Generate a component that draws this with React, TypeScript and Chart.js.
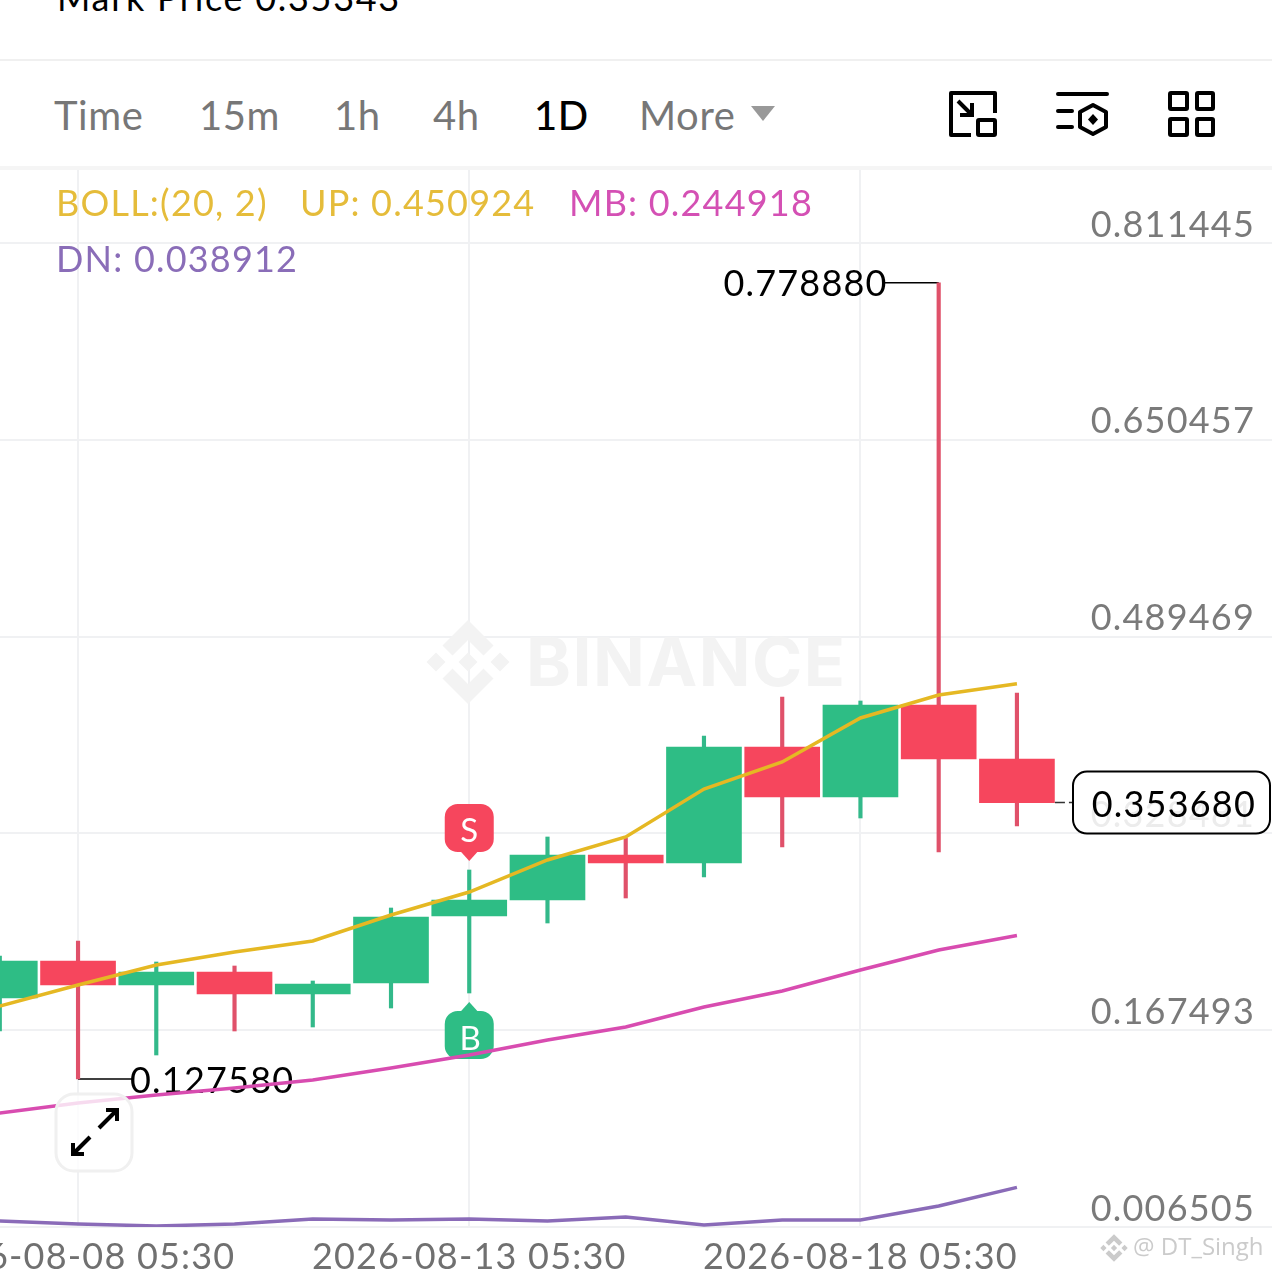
import React, { useEffect, useRef } from "react";
import { Chart, registerables } from "chart.js";

Chart.register(...registerables);

const dayLabels = [
  "2026-08-07", "2026-08-08", "2026-08-09", "2026-08-10", "2026-08-11", "2026-08-12", "2026-08-13",
  "2026-08-14", "2026-08-15", "2026-08-16", "2026-08-17", "2026-08-18", "2026-08-19", "2026-08-20",
];
const open = [0.19384, 0.2241, 0.20447, 0.2151, 0.19711, 0.2061, 0.26091, 0.274, 0.31081, 0.30426, 0.39915, 0.35825, 0.43351, 0.38934];
const close = [0.2241, 0.20447, 0.2151, 0.19711, 0.20529, 0.26009, 0.274, 0.31081, 0.30426, 0.39915, 0.35825, 0.43351, 0.38934, 0.35368];
const high = [0.22819, 0.24046, 0.22328, 0.22001, 0.20774, 0.26745, 0.29854, 0.32554, 0.32472, 0.40815, 0.44006, 0.43678, 0.77888, 0.44333];
const low = [0.16684, 0.12758, 0.14721, 0.16684, 0.17011, 0.18565, 0.19792, 0.25518, 0.27564, 0.29281, 0.31735, 0.34108, 0.31327, 0.33453];
const bollUp = [0.18729, 0.20447, 0.22083, 0.23146, 0.24046, 0.26173, 0.28054, 0.30672, 0.32554, 0.3648, 0.38688, 0.42288, 0.44169, 0.450924];
const bollMid = [0.09976, 0.10794, 0.11448, 0.12021, 0.12675, 0.13657, 0.14721, 0.15948, 0.17011, 0.18647, 0.19956, 0.21674, 0.2331, 0.244918];
const bollDn = [0.01141, 0.00896, 0.00732, 0.00896, 0.01305, 0.01223, 0.01305, 0.01141, 0.01468, 0.00814, 0.01223, 0.01223, 0.02368, 0.038912];
const priceTicks = [0.811445, 0.650457, 0.489469, 0.328481, 0.167493, 0.006505];
const timeTickIndexes = [1, 6, 11];
const timeTickSuffix = " 05:30";
const periods = ["Time", "15m", "1h", "4h", "1D", "More"];
const lastPrice = 0.35368;
const maxPrice = 0.77888;
const minPrice = 0.12758;
const markerIndex = 6;

const GREEN = "#2EBD85";
const RED = "#F6465D";
const FONT = "Lato, 'Noto Sans', sans-serif";
const TRACK = "1.2px";

const rr = (ctx: CanvasRenderingContext2D, x: number, y: number, w: number, h: number, r: number) => {
  ctx.beginPath();
  ctx.roundRect(x, y, w, h, r);
};

const poly = (ctx: CanvasRenderingContext2D, pts: number[][]) => {
  ctx.beginPath();
  pts.forEach(([x, y], i) => (i ? ctx.lineTo(x, y) : ctx.moveTo(x, y)));
  ctx.closePath();
  ctx.fill();
};

const logo = (ctx: CanvasRenderingContext2D, cx: number, cy: number, s: number) => {
  const p = (pts: number[][]) => poly(ctx, pts.map(([x, y]) => [cx + x * s, cy + y * s]));
  p([[-25.5, -16.5], [0, -42], [25.5, -16.5], [15.5, -6.5], [0, -22], [-15.5, -6.5]]);
  p([[-25.5, 16.5], [0, 42], [25.5, 16.5], [15.5, 6.5], [0, 22], [-15.5, 6.5]]);
  [[-32, 0], [0, 0], [32, 0]].forEach(([dx, dy]) =>
    p([[dx - 9.5, dy], [dx, dy - 9.5], [dx + 9.5, dy], [dx, dy + 9.5]])
  );
};

const overlays = {
  id: "overlays",
  beforeDraw(chart: any) {
    chart.ctx.letterSpacing = TRACK;
  },
  beforeDatasetsDraw(chart: any) {
    const { ctx, scales } = chart;
    const { x, y } = scales;
    ctx.save();
    // watermark
    ctx.fillStyle = "#F3F3F3";
    logo(ctx, 468, 662, 1);
    ctx.letterSpacing = "1.5px";
    ctx.font = `700 68px Inter, sans-serif`;
    ctx.textBaseline = "alphabetic";
    ctx.textAlign = "left";
    ctx.fillText("BINANCE", 526, 686);
    ctx.letterSpacing = TRACK;

    // high and low notes
    ctx.fillStyle = "#000";
    ctx.strokeStyle = "#000";
    ctx.lineWidth = 1.5;
    ctx.font = `400 36px ${FONT}`;
    ctx.textBaseline = "middle";
    const hiX = x.getPixelForValue(high.indexOf(maxPrice));
    const hiY = y.getPixelForValue(maxPrice);
    ctx.beginPath();
    ctx.moveTo(hiX - 54, hiY);
    ctx.lineTo(hiX, hiY);
    ctx.stroke();
    ctx.textAlign = "right";
    ctx.fillText(maxPrice.toFixed(6), hiX - 51, hiY + 2);
    const loX = x.getPixelForValue(low.indexOf(minPrice));
    const loY = y.getPixelForValue(minPrice);
    ctx.beginPath();
    ctx.moveTo(loX, loY);
    ctx.lineTo(loX + 54, loY);
    ctx.stroke();
    ctx.textAlign = "left";
    ctx.fillText(minPrice.toFixed(6), loX + 52, loY + 2);

    // S and B markers
    const mx = x.getPixelForValue(markerIndex);
    ctx.fillStyle = RED;
    rr(ctx, mx - 24.5, 804, 49, 48, 13);
    ctx.fill();
    poly(ctx, [[mx - 9, 851], [mx, 861], [mx + 9, 851]]);
    ctx.fillStyle = GREEN;
    rr(ctx, mx - 24.5, 1011, 49, 48, 13);
    ctx.fill();
    poly(ctx, [[mx - 9, 1012], [mx, 1002], [mx + 9, 1012]]);
    ctx.fillStyle = "#fff";
    ctx.textAlign = "center";
    ctx.font = `400 33px ${FONT}`;
    ctx.letterSpacing = "0px";
    ctx.fillText("S", mx, 831);
    ctx.fillText("B", mx + 1, 1039);
    ctx.restore();
  },
  afterDatasetsDraw(chart: any) {
    const { ctx, scales } = chart;
    const { x, y } = scales;
    ctx.save();
    // last price tag
    const py = y.getPixelForValue(lastPrice);
    const lastX = x.getPixelForValue(close.length - 1);
    ctx.strokeStyle = "#333";
    ctx.lineWidth = 1.5;
    ctx.setLineDash([10, 4]);
    ctx.beginPath();
    ctx.moveTo(lastX + 38, py);
    ctx.lineTo(1073, py);
    ctx.stroke();
    ctx.setLineDash([]);
    rr(ctx, 1073, py - 31, 197, 62, 14);
    ctx.fillStyle = "rgba(255,255,255,0.86)";
    ctx.fill();
    ctx.strokeStyle = "#000";
    ctx.lineWidth = 2;
    ctx.stroke();
    ctx.fillStyle = "#000";
    ctx.font = `400 36px ${FONT}`;
    ctx.textAlign = "right";
    ctx.textBaseline = "middle";
    ctx.fillText(lastPrice.toFixed(6), 1256, py + 3);

    // expand button
    rr(ctx, 56, 1094, 76, 77, 18);
    ctx.fillStyle = "rgba(255,255,255,0.8)";
    ctx.fill();
    ctx.strokeStyle = "#F0F0F0";
    ctx.lineWidth = 3;
    ctx.stroke();
    ctx.strokeStyle = "#000";
    ctx.lineWidth = 4;
    [
      [[99, 1128], [117, 1110]],
      [[106, 1110], [117, 1110], [117, 1121]],
      [[90, 1137], [73, 1154]],
      [[73, 1143], [73, 1154], [84, 1154]],
    ].forEach((seg) => {
      ctx.beginPath();
      seg.forEach(([a, b], i) => (i ? ctx.lineTo(a, b) : ctx.moveTo(a, b)));
      ctx.stroke();
    });

    // credit
    ctx.letterSpacing = "0px";
    ctx.fillStyle = "#CBCBCB";
    ctx.font = `400 24px 'Open Sans', sans-serif`;
    ctx.textAlign = "left";
    ctx.textBaseline = "middle";
    ctx.fillText("@ DT_Singh", 1133, 1248);
    logo(ctx, 1114, 1248, 0.33);
    ctx.restore();
  },
};

const text = (
  label: string,
  left: number,
  top: number,
  color: string,
  weight = 400,
  size = 36,
  track = TRACK
) => (
  <div
    key={label}
    style={{
      position: "absolute",
      left,
      top,
      color,
      fontSize: size,
      fontWeight: weight,
      lineHeight: "40px",
      letterSpacing: track,
      whiteSpace: "nowrap",
    }}
  >
    {label}
  </div>
);

const periodLefts = [54, 199, 334, 433, 534, 639];

export default function App() {
  const ref = useRef<HTMLCanvasElement>(null);

  useEffect(() => {
    const idx = dayLabels.map((_, i) => i);
    const chart = new Chart(ref.current!, {
      type: "bar",
      data: {
        datasets: [
          {
            type: "line",
            label: "UP",
            data: idx.map((i) => ({ x: i, y: bollUp[i] })),
            borderColor: "#E5B823",
            borderWidth: 3.5,
            pointRadius: 0,
            order: 0,
          },
          {
            type: "line",
            label: "MB",
            data: idx.map((i) => ({ x: i, y: bollMid[i] })),
            borderColor: "#D84CB0",
            borderWidth: 3.5,
            pointRadius: 0,
            order: 0,
          },
          {
            type: "line",
            label: "DN",
            data: idx.map((i) => ({ x: i, y: bollDn[i] })),
            borderColor: "#8A6BB8",
            borderWidth: 3.5,
            pointRadius: 0,
            order: 0,
          },
          {
            label: "Body",
            data: idx.map((i) => ({ x: i, y: [open[i], close[i]] })),
            backgroundColor: idx.map((i) => (close[i] >= open[i] ? GREEN : RED)),
            barThickness: 75,
            grouped: false,
            order: 1,
          },
          {
            label: "Wick",
            data: idx.map((i) => ({ x: i, y: [low[i], high[i]] })),
            backgroundColor: idx.map((i) => (close[i] >= open[i] ? "#33B98A" : "#E0516A")),
            barThickness: 3.5,
            grouped: false,
            order: 2,
          },
        ] as any,
      },
      options: {
        animation: false,
        responsive: false,
        events: [],
        layout: { padding: { top: 170, left: 0, right: 0, bottom: 0 } },
        plugins: { legend: { display: false }, tooltip: { enabled: false }, title: { display: false } },
        scales: {
          x: {
            type: "linear",
            offset: false,
            min: 0.0026,
            max: 16.26,
            afterBuildTicks: (s: any) => {
              s.ticks = timeTickIndexes.map((value) => ({ value }));
            },
            afterFit: (s: any) => {
              s.paddingLeft = 0;
              s.paddingRight = 0;
              s.height = 45;
            },
            grid: { color: "#F0F1F3", lineWidth: 2, drawTicks: false, offset: false },
            border: { display: false },
            ticks: {
              autoSkip: false,
              maxRotation: 0,
              padding: 9,
              color: "#707070",
              font: { family: FONT, size: 36 },
              callback: (v: any) => dayLabels[v] + timeTickSuffix,
            },
          },
          y: {
            type: "linear",
            position: "right",
            min: 0.006505,
            max: 0.87115,
            afterBuildTicks: (s: any) => {
              s.ticks = priceTicks.map((value) => ({ value }));
            },
            afterFit: (s: any) => {
              s.width = 0;
              s.paddingTop = 0;
              s.paddingBottom = 0;
            },
            grid: { color: "#F0F1F3", lineWidth: 2, drawTicks: false },
            border: { display: false },
            ticks: {
              mirror: true,
              padding: -17,
              labelOffset: -18,
              color: "#7A7A7A",
              font: { family: FONT, size: 36 },
              callback: (v: any) => Number(v).toFixed(6),
            },
          },
        },
      },
      plugins: [overlays],
    } as any);
    return () => chart.destroy();
  }, []);

  return (
    <div
      style={{
        position: "absolute",
        left: 0,
        top: 0,
        width: 1272,
        height: 1272,
        overflow: "hidden",
        background: "#fff",
        fontFamily: FONT,
      }}
    >
      <div style={{ position: "absolute", left: 57, top: -23, color: "#000", fontSize: 36, lineHeight: "40px", letterSpacing: "1.7px", whiteSpace: "nowrap" }}>Mark Price  0.35343</div>
      <div style={{ position: "absolute", left: 0, top: 59, width: 1272, height: 2, background: "#F0F0F0" }} />
      <div style={{ position: "absolute", left: 0, top: 166, width: 1272, height: 4, background: "#F5F5F5" }} />
      {periods.map((p, i) => text(p, periodLefts[i], 95, p === "1D" ? "#000" : "#777", p === "1D" ? 500 : 400, 40, "0.6px"))}
      <canvas ref={ref} width={1272} height={1272} style={{ position: "absolute", left: 0, top: 0, display: "block" }} />
      {text("BOLL:(20, 2)", 56, 182, "#E5BC3A")}
      {text("UP: 0.450924", 300, 182, "#E5BC3A")}
      {text("MB: 0.244918", 569, 182, "#D450B4")}
      {text("DN: 0.038912", 56, 238, "#8A6DB8")}
      <svg width={1272} height={170} style={{ position: "absolute", left: 0, top: 0 }} fill="none" stroke="#000" strokeWidth={4}>
        <path d="M751 106 H775 L763 121 Z" fill="#999" stroke="none" />
        <path d="M971 135 H951 V93 H995 V113" strokeLinejoin="round" />
        <rect x={978} y={120} width={17} height={15} rx={1} />
        <path d="M958 101 L972 115 M972 103 V115 H960" />
        <path d="M1058 94 H1107 M1058 111 H1072 M1058 127 H1072" strokeLinecap="round" />
        <path d="M1093 105 L1106 112 V127 L1093 134 L1080 127 V112 Z" strokeLinejoin="round" />
        <path d="M1093 114 L1098 119.5 L1093 125 L1088 119.5 Z" fill="#000" stroke="none" />
        <rect x={1170} y={93} width={17} height={16} rx={1} />
        <rect x={1197} y={93} width={16} height={16} rx={1} />
        <rect x={1170} y={119} width={17} height={16} rx={1} />
        <rect x={1197} y={119} width={16} height={16} rx={1} />
      </svg>
    </div>
  );
}
